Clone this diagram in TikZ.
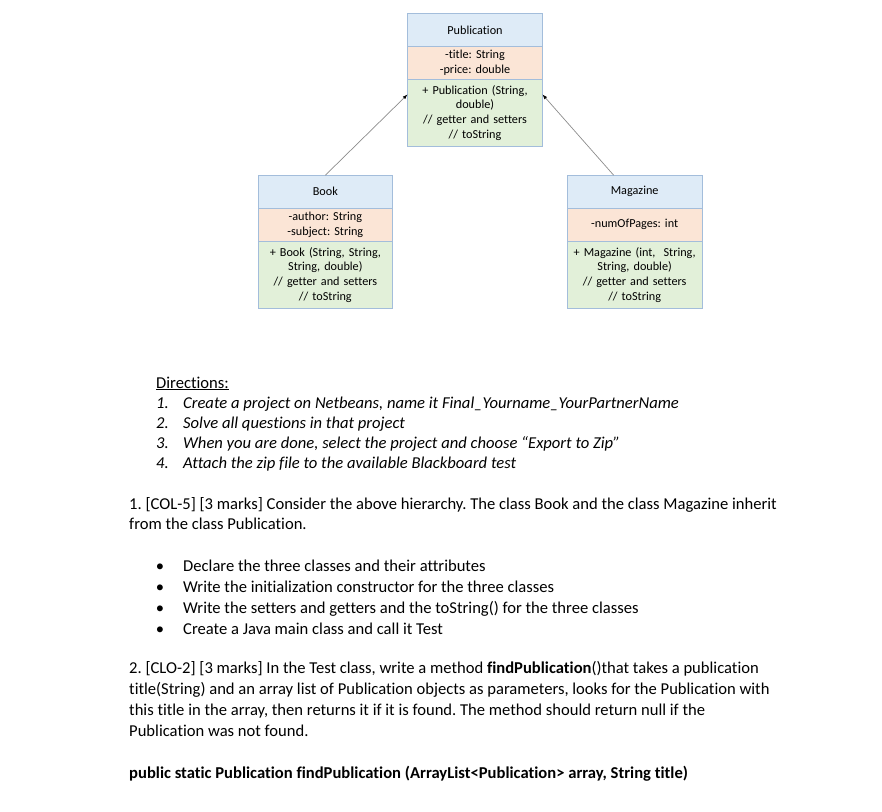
\documentclass[tikz,border=0pt]{standalone}
\usepackage{fontspec}
\setmainfont{Carlito}[Ligatures={NoCommon}]
\usepackage{tikz}
\usetikzlibrary{matrix, positioning, arrows.meta}
\definecolor{headblue}{HTML}{DEEBF7}
\definecolor{attrorange}{HTML}{FBE5D6}
\definecolor{methgreen}{HTML}{E2F0D9}
\definecolor{boxline}{HTML}{A3BDDB}
\definecolor{linegray}{HTML}{8C8C8C}
\frenchspacing

\begin{document}
\begin{tikzpicture}
[x=1pt, y=-1pt,
cell/.style={rectangle, draw=boxline, line width=.8pt, inner sep=.5mm, text width=132pt, align=center, font=\fontsize{12.2}{14.7}\selectfont},
uml/.style={matrix of nodes, row sep=-.8pt, inner sep=0pt, outer sep=0pt, nodes={cell},
row 1/.style={nodes={fill=headblue, minimum height=33pt}},
row 2/.style={nodes={fill=attrorange, minimum height=33pt}},
row 3/.style={nodes={fill=methgreen, minimum height=67pt}}},
inherit/.style={draw=linegray, line width=.7pt, -{Latex[length=5pt,width=3.5pt,color=black]}},
body/.style={anchor=base west, inner sep=0pt, font=\fontsize{16.6}{20.5}\selectfont}
]
\useasboundingbox (0,0) rectangle (882,811);

\matrix (pub) [uml, anchor=north] at (475,13)
{
Publication \\
{-title: String\\ -price: double} \\
{+ Publication (String,\\ double)\\ // getter and setters\\ // toString} \\
};
\matrix (book) [uml, below left=28pt and 14pt of pub]
{
Book \\
{-author: String\\ -subject: String} \\
{+ Book (String, String,\\ String, double)\\ // getter and setters\\ // toString} \\
};
\matrix (mag) [uml, below right=28pt and 24pt of pub]
{
Magazine \\
-numOfPages: int \\
{+ Magazine (int,\ \ String,\\ String, double)\\ // getter and setters\\ // toString} \\
};

\coordinate (pubL) at ([yshift=-15pt]pub-3-1.north west);
\coordinate (pubR) at ([yshift=-15pt]pub-3-1.north east);
\coordinate (magT) at ([xshift=-21pt]mag-1-1.north);
\draw[inherit] (book-1-1.north) -- (pubL);
\draw[inherit] (magT) -- (pubR);

% directions
\node[body] (dirhead) at (156,388) {\underline{Directions:}};
\foreach \n/\txt in {1/{Create a project on Netbeans, name it Final\_Yourname\_YourPartnerName},
  2/{Solve all questions in that project},
  3/{When you are done, select the project and choose “Export to Zip”},
  4/{Attach the zip file to the available Blackboard test}}
  \node[body] (dir\n) at (156,{388+20*\n}) {\itshape\makebox[27pt][l]{\n.}\txt};

% question 1
\node[body] (qone1) at (129,509) {1. [COL-5] [3 marks] Consider the above hierarchy. The class Book and the class Magazine inherit};
\node[body] (qone2) at (129,529.5) {from the class Publication.};
\foreach \n/\txt in {1/{Declare the three classes and their attributes},
  2/{Write the initialization constructor for the three classes},
  3/{Write the setters and getters and the toString() for the three classes},
  4/{Create a Java main class and call it Test}}
{
  \node[body, anchor=base] (dot\n) at (160,{550+21*\n}) {\textbullet};
  \node[body] (bul\n) at (183,{550+21*\n}) {\txt};
}

% question 2
\node[body] (qtwo1) at (129,673) {2. [CLO-2] [3 marks] In the Test class, write a method \textbf{findPublication}()that takes a publication};
\node[body] (qtwo2) at (129,694) {title(String) and an array list of Publication objects as parameters, looks for the Publication with};
\node[body] (qtwo3) at (129,715) {this title in the array, then returns it if it is found. The method should return null if the};
\node[body] (qtwo4) at (129,736) {Publication was not found.};
\node[body] (sig) at (129,778) {\textbf{public static Publication findPublication (ArrayList<Publication> array, String title)}};
\end{tikzpicture}
\end{document}
